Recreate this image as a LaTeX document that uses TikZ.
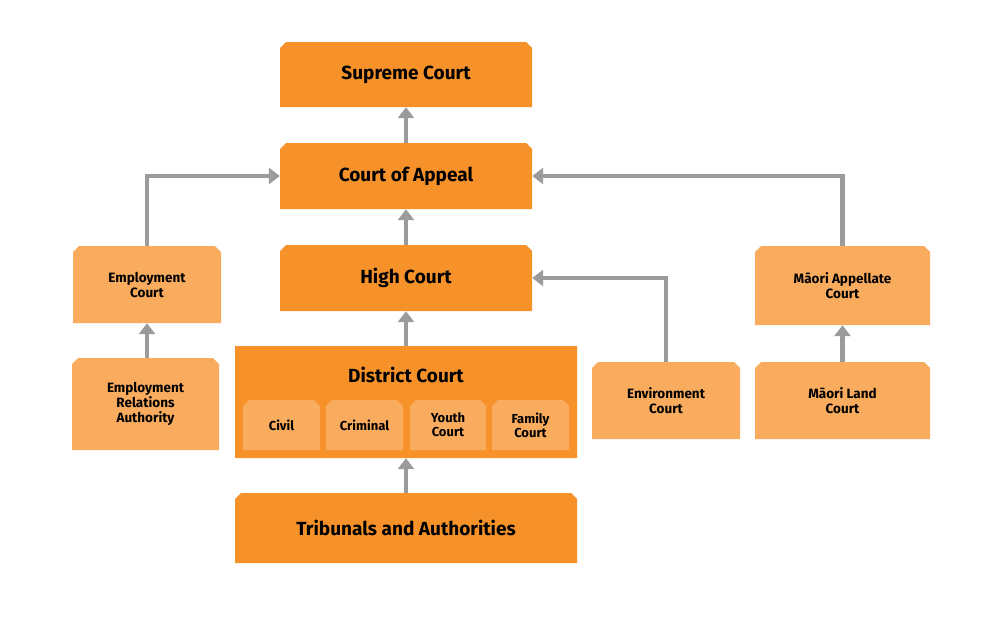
\documentclass[tikz,border=0pt]{standalone}
\usepackage{fontspec}
\setmainfont{Fira Sans}
\usetikzlibrary{shapes.misc,arrows.meta}
\definecolor{dor}{HTML}{F7922A}
\definecolor{lor}{HTML}{F9AB5E}
\definecolor{arr}{HTML}{9B9B9B}
\begin{document}
\begin{tikzpicture}[x=1pt,y=-1pt,
 box/.style={chamfered rectangle,chamfered rectangle corners={north west,north east},chamfered rectangle xsep=3pt,chamfered rectangle ysep=3pt,inner sep=0pt,draw=none,align=center,font=\bfseries,text=black},
 dbox/.style={box,fill=dor,font=\fontsize{19}{22}\selectfont\bfseries},
 lbox/.style={box,fill=lor,font=\fontsize{13.5}{15}\selectfont\bfseries},
 sbox/.style={box,fill=lor,font=\fontsize{13}{14}\selectfont\bfseries},
 ar/.style={draw=arr,line width=4.5pt,-{Triangle[length=11pt,width=16pt]}}]
\useasboundingbox (0,0) rectangle (1000,621);
\def\bx#1#2#3#4#5#6#7{\node[#1,minimum width=#4-#2,minimum height=#5-#3] (#6) at ({(#2+#4)/2},{(#3+#5)/2}) {#7};}
\bx{dbox}{280}{42}{532}{107}{sup}{Supreme Court}
\bx{dbox}{280}{143}{532}{209}{coa}{Court of Appeal}
\bx{dbox}{280}{245}{532}{311}{hc}{High Court}
\bx{dbox}{235}{346}{577}{458}{dc}{}
\node[font=\fontsize{19}{22}\selectfont\bfseries] (dct) at (406,375) {District Court};
\bx{sbox}{243}{400}{320}{450}{civ}{Civil}
\bx{sbox}{326}{400}{403}{450}{cri}{Criminal}
\bx{sbox}{410}{400}{486}{450}{yc}{Youth\\Court}
\bx{sbox}{492}{400}{569}{450}{fc}{Family\\Court}
\bx{dbox}{235}{493}{577}{563}{tri}{Tribunals and Authorities}
\bx{lbox}{73}{246}{221}{323}{ec}{Employment\\Court}
\bx{lbox}{72}{358}{219}{450}{era}{Employment\\Relations\\Authority}
\bx{lbox}{592}{362}{740}{439}{env}{Environment\\Court}
\bx{lbox}{755}{246}{930}{325}{mac}{Māori Appellate\\Court}
\bx{lbox}{755}{362}{930}{439}{mlc}{Māori Land\\Court}
\draw[ar] (coa.north) -- (sup.south);
\draw[ar] (hc.north) -- (coa.south);
\draw[ar] (dc.north) -- (hc.south);
\draw[ar] (tri.north) -- (dc.south);
\draw[ar] (era.north -| ec) -- (ec.south);
\draw[ar] (mlc.north) -- (mac.south);
\draw[ar] (ec.north) |- (coa.west);
\draw[ar] (mac.north) |- (coa.east);
\draw[ar] (env.north) |- (hc.east);
\end{tikzpicture}
\end{document}
